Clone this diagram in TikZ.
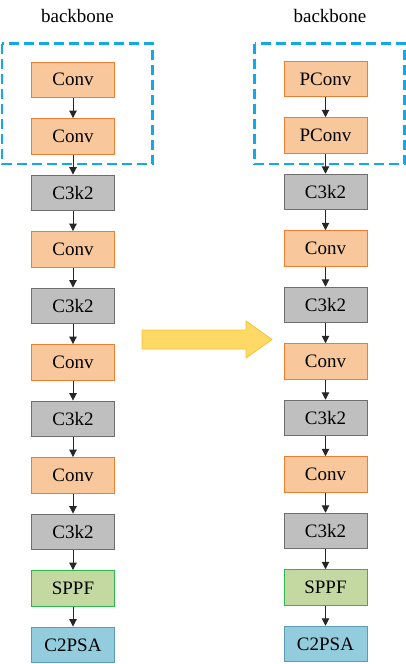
\documentclass[tikz,border=0pt]{standalone}
\usepackage{fontspec}
\setmainfont{Liberation Serif}
\usetikzlibrary{arrows.meta}
\definecolor{convfill}{HTML}{F8C89C}
\definecolor{convdraw}{HTML}{ED7D31}
\definecolor{c3fill}{HTML}{BFBFBF}
\definecolor{c3draw}{HTML}{6E6E6E}
\definecolor{sppffill}{HTML}{C4D8A2}
\definecolor{sppfdraw}{HTML}{2DB84D}
\definecolor{psafill}{HTML}{93CDDD}
\definecolor{psadraw}{HTML}{5B9BB5}
\definecolor{dashblue}{HTML}{12A9E6}
\definecolor{arrfill}{HTML}{FFD966}
\definecolor{arrdraw}{HTML}{F5C230}
\tikzset{
  blk/.style={rectangle, minimum width=83pt, minimum height=35.5pt, inner sep=0pt, line width=1pt,
    font=\fontsize{19}{22}\selectfont},
  convbox/.style={blk, fill=convfill, draw=convdraw},
  c3box/.style={blk, fill=c3fill, draw=c3draw},
  sppfbox/.style={blk, fill=sppffill, draw=sppfdraw},
  psabox/.style={blk, fill=psafill, draw=psadraw},
  link/.style={draw=black!85, line width=1pt, -{Triangle[length=7.5pt,width=7.5pt]}},
  grp/.style={draw=dashblue, line width=2.3pt, dash pattern=on 10pt off 5pt},
  ttl/.style={font=\fontsize{19}{22}\selectfont, inner sep=0pt},
  bigarrow/.style={fill=arrfill, draw=arrdraw, line width=0.8pt, line join=miter}
}
\begin{document}
\begin{tikzpicture}[x=1pt,y=-1pt]
\useasboundingbox (0,0) rectangle (406,664);
% titles
\node[ttl] (tl) at (77.5,16) {backbone};
\node[ttl] (tr) at (330,16) {backbone};
% dashed groups
\draw[grp] (2,43.5) rectangle (152.5,164);
\draw[grp] (254.5,43.5) rectangle (404.5,164);
% left column
\node[convbox] (l1) at (73,79.8) {Conv};
\node[convbox] (l2) at (73,136.3) {Conv};
\node[c3box] (l3) at (73,192.8) {C3k2};
\node[convbox] (l4) at (73,249.3) {Conv};
\node[c3box] (l5) at (73,305.8) {C3k2};
\node[convbox] (l6) at (73,362.3) {Conv};
\node[c3box] (l7) at (73,418.8) {C3k2};
\node[convbox] (l8) at (73,475.3) {Conv};
\node[c3box] (l9) at (73,531.8) {C3k2};
\node[sppfbox] (l10) at (73,588.3) {SPPF};
\node[psabox] (l11) at (73,644.8) {C2PSA};
% right column
\node[convbox] (r1) at (325.5,79) {PConv};
\node[convbox] (r2) at (325.5,135.5) {PConv};
\node[c3box] (r3) at (325.5,192) {C3k2};
\node[convbox] (r4) at (325.5,248.5) {Conv};
\node[c3box] (r5) at (325.5,305) {C3k2};
\node[convbox] (r6) at (325.5,361.5) {Conv};
\node[c3box] (r7) at (325.5,418) {C3k2};
\node[convbox] (r8) at (325.5,474.5) {Conv};
\node[c3box] (r9) at (325.5,531) {C3k2};
\node[sppfbox] (r10) at (325.5,587.5) {SPPF};
\node[psabox] (r11) at (325.5,644) {C2PSA};
% connectors
\foreach \a/\b in {1/2,2/3,3/4,4/5,5/6,6/7,7/8,8/9,9/10,10/11}{
  \draw[link] (l\a) -- (l\b);
  \draw[link] (r\a) -- (r\b);
}
% big arrow
\draw[bigarrow] (142,330) -- (246,330) -- (246,321) -- (272,339.5) -- (246,358) -- (246,349) -- (142,349) -- cycle;
\end{tikzpicture}
\end{document}
